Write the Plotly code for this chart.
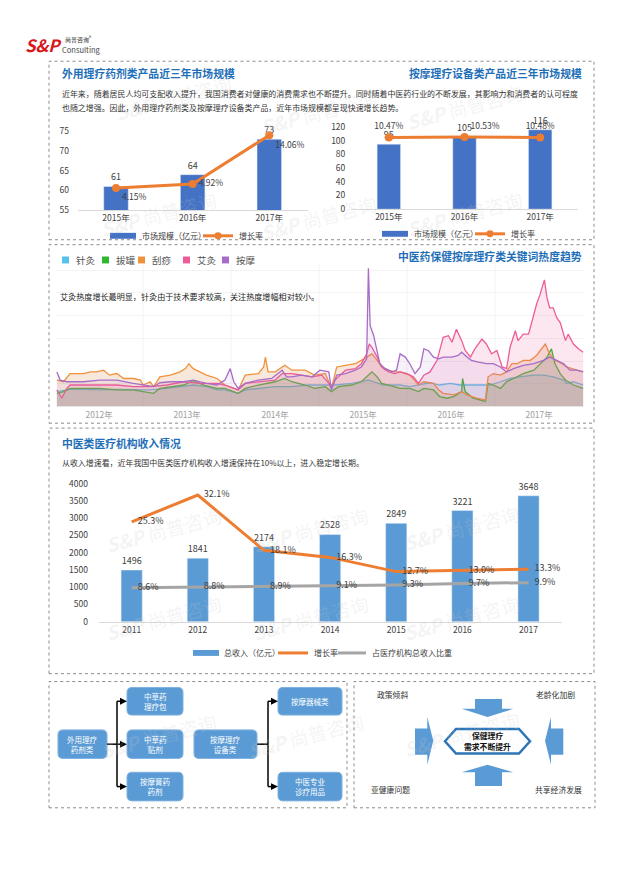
import plotly.graph_objects as go

W, H = 642, 869
def X(px): return px / W
def Y(py): return 1 - py / H

FONT = "Noto Sans CJK SC, Noto Sans, sans-serif"
BLUE_T = "#1F6FB8"
NB = "\u00a0"

# ---------------- data ----------------
years_a = ["2015年", "2016年", "2017年"]
topical_size = [61, 64, 73]
topical_growth = [4.15, 4.92, 14.06]
device_size = [95, 105, 116]
device_growth = [10.47, 10.53, 10.48]

inc_years = ["2011", "2012", "2013", "2014", "2015", "2016", "2017"]
income = [1496, 1841, 2174, 2528, 2849, 3221, 3648]
income_growth = [25.3, 32.1, 18.1, 16.3, 12.7, 13.0, 13.3]
income_share = [8.6, 8.8, 8.9, 9.1, 9.3, 9.7, 9.9]

trend_years = [2012, 2013, 2014, 2015, 2016, 2017]
trend_labels = ["2012年", "2013年", "2014年", "2015年", "2016年", "2017年"]

trend_anmo = [(2011.52,35),(2011.557,26.7),(2011.633,25),(2011.82,25),(2012.01,26.7),(2012.20,26.7),(2012.39,23.3),(2012.50,21.7),(2012.62,20),(2012.69,24),(2012.81,25),(2012.96,25),(2013.07,26.7),(2013.22,23.3),(2013.34,21.7),(2013.43,26.7),(2013.49,38.3),(2013.53,25),(2013.58,18.3),(2013.66,23.3),(2013.81,26.7),(2013.96,28.3),(2014.08,36.7),(2014.13,30),(2014.19,30),(2014.30,31.7),(2014.42,30),(2014.51,36.7),(2014.61,35),(2014.64,16.7),(2014.70,31.7),(2014.80,33.3),(2014.91,36.7),(2014.98,40),(2015.04,48.3),(2015.06,140),(2015.08,81.7),(2015.12,71.7),(2015.16,53.3),(2015.19,43.3),(2015.25,38.3),(2015.33,35),(2015.38,36.7),(2015.42,53.3),(2015.48,50),(2015.53,43.3),(2015.59,33.3),(2015.65,40),(2015.69,58.3),(2015.74,56.7),(2015.80,50),(2015.86,48.3),(2015.91,50),(2016.01,50),(2016.08,51.7),(2016.12,55),(2016.18,50),(2016.23,46.7),(2016.31,45),(2016.40,43.3),(2016.48,43.3),(2016.56,40),(2016.63,35),(2016.71,38.3),(2016.82,41.7),(2016.94,43.3),(2017.05,46.7),(2017.12,50),(2017.20,46.7),(2017.28,43.3),(2017.35,36.7),(2017.43,36.7),(2017.50,35)]

trend_aijiu = [(2011.52,16.7),(2011.576,8.3),(2011.633,18.3),(2011.67,21.7),(2011.82,21.7),(2012.01,21.7),(2012.20,21.7),(2012.39,20),(2012.58,20),(2012.77,21.7),(2012.96,25),(2013.15,23.3),(2013.34,23.3),(2013.43,21.7),(2013.58,16.7),(2013.66,23.3),(2013.81,25),(2014.00,26.7),(2014.08,33.3),(2014.19,33.3),(2014.30,31.7),(2014.42,30),(2014.53,31.7),(2014.61,23.3),(2014.64,18.3),(2014.68,26.7),(2014.80,36.7),(2014.91,38.3),(2014.98,43.3),(2015.04,53.3),(2015.07,63.3),(2015.10,60),(2015.16,50),(2015.19,43.3),(2015.23,38.3),(2015.29,35),(2015.36,33.3),(2015.42,35),(2015.50,33.3),(2015.57,30),(2015.63,23.3),(2015.69,31.7),(2015.76,35),(2015.84,46.7),(2015.91,70),(2015.97,71.7),(2016.01,65),(2016.06,78.3),(2016.12,66.7),(2016.16,56.7),(2016.22,50),(2016.27,58.3),(2016.35,68.3),(2016.40,63.3),(2016.46,53.3),(2016.52,56.7),(2016.58,40),(2016.63,38.3),(2016.67,60),(2016.73,76.7),(2016.76,66.7),(2016.82,73.3),(2016.88,73.3),(2016.92,86.7),(2016.97,103.3),(2017.01,113.3),(2017.06,128.3),(2017.09,110),(2017.12,100),(2017.16,100),(2017.20,90),(2017.24,85),(2017.30,66.7),(2017.33,73.3),(2017.39,63.3),(2017.45,58.3),(2017.50,55)]

trend_guasha = [(2011.52,26.7),(2011.595,25),(2011.67,33.3),(2011.82,33.3),(2011.90,35),(2011.97,35),(2012.05,36.7),(2012.12,31.7),(2012.20,33.3),(2012.28,28.3),(2012.39,28.3),(2012.47,26.7),(2012.50,21.7),(2012.58,25),(2012.62,20),(2012.69,30),(2012.81,31.7),(2012.92,35),(2012.98,38.3),(2013.02,43.3),(2013.07,38.3),(2013.15,35),(2013.22,31.7),(2013.34,28.3),(2013.43,21.7),(2013.58,16.7),(2013.66,31.7),(2013.81,33.3),(2013.87,40),(2013.89,50),(2013.92,35),(2014.00,35),(2014.11,41.7),(2014.19,36.7),(2014.34,36.7),(2014.45,31.7),(2014.57,33.3),(2014.64,18.3),(2014.70,40),(2014.80,41.7),(2014.91,43.3),(2014.98,46.7),(2015.04,50),(2015.10,53.3),(2015.16,46.7),(2015.21,40),(2015.29,36.7),(2015.36,35),(2015.42,35),(2015.53,31.7),(2015.63,21.7),(2015.69,25),(2015.80,23.3),(2015.86,16.7),(2015.91,13.3),(2016.03,11.7),(2016.12,15),(2016.18,11.7),(2016.29,8.3),(2016.39,6.7),(2016.42,30),(2016.48,33.3),(2016.56,31.7),(2016.63,35),(2016.69,43.3),(2016.75,43.3),(2016.82,46.7),(2016.90,46.7),(2016.97,51.7),(2017.07,63.3),(2017.12,53.3),(2017.18,46.7),(2017.26,43.3),(2017.31,40),(2017.43,36.7),(2017.50,35)]

trend_baguan = [(2011.52,13.3),(2011.595,15),(2011.67,18.3),(2011.82,18.3),(2012.01,18.3),(2012.20,16.7),(2012.39,16.7),(2012.50,15),(2012.62,13.3),(2012.69,18.3),(2012.81,20),(2012.96,21.7),(2013.07,26),(2013.19,21.7),(2013.34,18.3),(2013.43,18.3),(2013.58,13.3),(2013.66,18.3),(2013.81,21.7),(2014.00,25),(2014.11,28.3),(2014.19,25),(2014.34,21.7),(2014.45,18.3),(2014.57,20),(2014.64,15),(2014.72,20),(2014.87,21.7),(2014.98,25),(2015.06,31.7),(2015.10,35),(2015.16,30),(2015.21,23.3),(2015.29,21.7),(2015.36,20),(2015.42,18.3),(2015.53,18.3),(2015.63,15),(2015.69,18.3),(2015.80,16.7),(2015.87,10),(2015.95,8.3),(2016.03,10),(2016.12,15),(2016.13,28.3),(2016.16,15),(2016.25,8.3),(2016.39,5),(2016.42,23.3),(2016.48,21.7),(2016.56,18.3),(2016.63,25),(2016.71,28.3),(2016.82,33.3),(2016.94,36.7),(2017.01,43.3),(2017.09,50),(2017.14,58.3),(2017.18,43.3),(2017.24,33.3),(2017.30,26.7),(2017.39,21.7),(2017.50,18.3)]

trend_zhenjiu = [(2011.52,15),(2011.67,17.3),(2011.82,17.3),(2012.01,16.7),(2012.20,17.3),(2012.39,17.3),(2012.58,16.7),(2012.77,18.3),(2012.96,20),(2013.07,21.7),(2013.22,20),(2013.34,16.7),(2013.43,16.7),(2013.58,13.3),(2013.66,16.7),(2013.81,18.3),(2014.00,20),(2014.19,20),(2014.38,21.7),(2014.57,21.7),(2014.68,21.7),(2014.87,23.3),(2014.98,25),(2015.06,26.7),(2015.12,25),(2015.23,21.7),(2015.36,21.7),(2015.42,21.7),(2015.53,20),(2015.65,21.7),(2015.76,24),(2015.87,21.7),(2015.99,23.3),(2016.10,21.7),(2016.22,21.7),(2016.33,21.7),(2016.44,21.7),(2016.56,25),(2016.67,28.3),(2016.78,30),(2016.94,31.7),(2017.05,31.7),(2017.16,30),(2017.28,26.7),(2017.31,23.3),(2017.39,25),(2017.50,21.7)]

trend_names = ["针灸", "拔罐", "刮痧", "艾灸", "按摩"]
trend_colors = ["#55C3EC", "#2DB82D", "#F0913C", "#EE5C97", "#A66CC8"]
trend_fills = ["rgba(120,190,215,0.22)", "rgba(90,160,90,0.22)", "rgba(225,150,90,0.22)",
               "rgba(238,92,151,0.15)", "rgba(166,108,200,0.09)"]
trend_data = [trend_zhenjiu, trend_baguan, trend_guasha, trend_aijiu, trend_anmo]

fig = go.Figure()

# ---------- chart 1 left ----------
fig.add_trace(go.Bar(x=years_a, y=topical_size, xaxis="x", yaxis="y", width=0.32,
                     marker_color="#4472C4", text=[str(v) for v in topical_size],
                     textposition="outside", cliponaxis=False,
                     textfont=dict(size=9, color="#404040")))
fig.add_trace(go.Scatter(x=years_a, y=topical_growth, xaxis="x", yaxis="y2",
                         mode="lines+markers+text", line=dict(color="#ED7D31", width=3),
                         marker=dict(size=8, color="#ED7D31"), cliponaxis=False,
                         text=[f"{v:.2f}%" for v in topical_growth],
                         textposition=["bottom right", "middle right", "bottom right"],
                         textfont=dict(size=8.5, color="#404040")))
# ---------- chart 1 right ----------
fig.add_trace(go.Bar(x=years_a, y=device_size, xaxis="x3", yaxis="y3", width=0.31,
                     marker_color="#4472C4", text=[str(v) for v in device_size],
                     textposition="outside", cliponaxis=False,
                     textfont=dict(size=9, color="#404040")))
fig.add_trace(go.Scatter(x=years_a, y=device_growth, xaxis="x3", yaxis="y4",
                         mode="lines+markers+text", line=dict(color="#ED7D31", width=3),
                         marker=dict(size=8, color="#ED7D31"), cliponaxis=False,
                         text=[f"{v:.2f}%" for v in device_growth],
                         textposition=["top center", "top right", "top center"],
                         textfont=dict(size=8.5, color="#404040")))
# ---------- trend ----------
for name, col, fc, dat in zip(trend_names, trend_colors, trend_fills, trend_data):
    fig.add_trace(go.Scatter(x=[p[0] for p in dat], y=[p[1] for p in dat], xaxis="x5", yaxis="y5",
                             mode="lines", name=name, line=dict(color=col, width=1.3),
                             fill="tozeroy", fillcolor=fc))
# ---------- chart 3 ----------
fig.add_trace(go.Bar(x=inc_years, y=income, xaxis="x6", yaxis="y6", width=0.32,
                     marker_color="#5B9BD5", text=[str(v) for v in income],
                     textposition="outside", cliponaxis=False,
                     textfont=dict(size=9, color="#404040")))
fig.add_trace(go.Scatter(x=inc_years, y=income_growth, xaxis="x6", yaxis="y7",
                         mode="lines+text", line=dict(color="#ED7D31", width=3),
                         text=[f"{NB*3}{v:.1f}%" for v in income_growth], textposition="middle right",
                         cliponaxis=False, textfont=dict(size=9, color="#404040")))
fig.add_trace(go.Scatter(x=inc_years, y=income_share, xaxis="x6", yaxis="y7",
                         mode="lines+text", line=dict(color="#A5A5A5", width=3),
                         text=[f"{NB*3}{v:.1f}%" for v in income_share], textposition="middle right",
                         cliponaxis=False, textfont=dict(size=9, color="#404040")))

tickf = dict(size=8.5, color="#404040")
layout = dict(
    width=W, height=869, margin=dict(l=0, r=0, t=0, b=0),
    paper_bgcolor="white", plot_bgcolor="rgba(0,0,0,0)", showlegend=False,
    font=dict(family=FONT, color="#404040"),
    xaxis=dict(domain=[X(77.7), X(307.6)], anchor="y", type="category", range=[-0.5, 2.5],
               showline=True, linecolor="#D9D9D9", ticks="", tickfont=tickf, fixedrange=True),
    yaxis=dict(domain=[Y(206), Y(126)], anchor="x", range=[55, 75], dtick=5, showgrid=False,
               zeroline=False, tickfont=tickf, ticks="outside", ticklen=6, tickcolor="rgba(0,0,0,0)"),
    yaxis2=dict(overlaying="y", range=[0, 14.8], visible=False),
    xaxis3=dict(domain=[X(351), X(578)], anchor="y3", type="category", range=[-0.5, 2.5],
                showline=True, linecolor="#D9D9D9", ticks="", tickfont=tickf),
    yaxis3=dict(domain=[Y(205), Y(121.7)], anchor="x3", range=[0, 120], dtick=20, showgrid=False,
                zeroline=False, tickfont=tickf, ticks="outside", ticklen=3, tickcolor="rgba(0,0,0,0)"),
    yaxis4=dict(overlaying="y3", range=[0, 12], visible=False),
    xaxis5=dict(domain=[X(56), X(584)], anchor="y5", range=[2011.51, 2017.51],
                tickvals=trend_years, ticktext=trend_labels, showgrid=False, zeroline=False,
                tickfont=dict(size=8.5, color="#A0A0A0"), ticks="", showline=True, linecolor="#E6E6E6"),
    yaxis5=dict(domain=[Y(405), Y(260)], anchor="x5", range=[0, 145], showticklabels=False,
                tickvals=[23, 46, 69, 92, 115, 138], gridcolor="#F3F3F3", zeroline=False),
    xaxis6=dict(domain=[X(98.6), X(561.6)], anchor="y6", type="category", range=[-0.5, 6.5],
                showline=True, linecolor="#D9D9D9", ticks="", tickfont=tickf),
    yaxis6=dict(domain=[Y(623.3), Y(483.3)], anchor="x6", range=[0, 4000], dtick=500, showgrid=False,
                zeroline=False, tickfont=tickf, ticks="outside", ticklen=8, tickcolor="rgba(0,0,0,0)"),
    yaxis7=dict(overlaying="y6", range=[0, 35], visible=False),
)

shapes = []
ann = []

def rect(x0, y0, x1, y1, **kw):
    d = dict(type="rect", xref="paper", yref="paper", x0=X(x0), x1=X(x1), y0=Y(y1), y1=Y(y0))
    d.update(kw)
    shapes.append(d)

def line(x0, y0, x1, y1, color="black", width=1.5, dash=None):
    d = dict(type="line", xref="paper", yref="paper", x0=X(x0), x1=X(x1), y0=Y(y0), y1=Y(y1),
             line=dict(color=color, width=width))
    if dash:
        d["line"]["dash"] = dash
    shapes.append(d)

def poly(pts, fill, lc=None, lw=0):
    p = "M " + " L ".join(f"{X(a):.5f},{Y(b):.5f}" for a, b in pts) + " Z"
    shapes.append(dict(type="path", xref="paper", yref="paper", path=p, fillcolor=fill,
                       line=dict(color=lc or fill, width=lw)))

def rrect(x0, y0, x1, y1, r, fill, lc):
    P = lambda a, b: f"{X(a):.5f},{Y(b):.5f}"
    p = (f"M {P(x0+r,y0)} L {P(x1-r,y0)} Q {P(x1,y0)} {P(x1,y0+r)} L {P(x1,y1-r)} "
         f"Q {P(x1,y1)} {P(x1-r,y1)} L {P(x0+r,y1)} Q {P(x0,y1)} {P(x0,y1-r)} "
         f"L {P(x0,y0+r)} Q {P(x0,y0)} {P(x0+r,y0)} Z")
    shapes.append(dict(type="path", xref="paper", yref="paper", path=p, fillcolor=fill,
                       line=dict(color=lc, width=1)))

def text(x, y, s, size=8, color="#333", xa="center", bold=False, ya="middle", angle=0):
    if bold:
        s = f"<b>{s}</b>"
    ann.append(dict(x=X(x), y=Y(y), xref="paper", yref="paper", text=s, showarrow=False,
                    xanchor=xa, yanchor=ya, textangle=angle,
                    font=dict(size=size, color=color, family=FONT)))

# watermarks (very faint)
for (wx, wy) in [(110, 60), (318, 75), (528, 70), (95, 178), (318, 182), (528, 178),
                 (100, 530), (310, 530), (525, 528), (100, 650), (310, 650), (525, 650),
                 (95, 770), (305, 770), (525, 768)]:
    ann.append(dict(x=X(wx), y=Y(wy), xref="paper", yref="paper", showarrow=False,
                    text="<b><i>S&P</i></b> 尚普咨询", textangle=-15,
                    font=dict(size=19, color="rgba(200,200,200,0.2)", family=FONT)))

# logo
text(44, 38, "<i>S&P</i>", size=17, color="#D7191C", bold=True)
text(63, 32, "尚普咨询<sup>®</sup>", size=6, color="#333", xa="left")
text(60, 43, "Consulting", size=7.5, color="#444", xa="left")

# panels
for (a, b, c, d) in [(49, 55, 594, 236), (49, 241, 594, 422), (49, 427, 594, 676),
                     (49, 684, 347, 812), (354, 684, 595, 812)]:
    rect(a, b, c, d, line=dict(color="#8C8C8C", width=1, dash="dot"))

# panel 1 texts
text(60, 66.5, "外用理疗药剂类产品近三年市场规模", size=10.8, color=BLUE_T, xa="left", bold=True)
text(584, 66.5, "按摩理疗设备类产品近三年市场规模", size=10.8, color=BLUE_T, xa="right", bold=True)
text(60, 87.5, "近年来，随着居民人均可支配收入提升，我国消费者对健康的消费需求也不断提升。同时随着中医药行业的不断发展，其影响力和消费者的认可程度",
     size=7.95, color="#333", xa="left")
text(60, 101.5, "也随之增强。因此，外用理疗药剂类及按摩理疗设备类产品，近年市场规模都呈现快速增长趋势。",
     size=7.95, color="#333", xa="left")

def legend_bar(x0, y, label):
    rect(x0, y - 3, x0 + 26, y + 3, fillcolor="#4472C4", line=dict(width=0))
    text(x0 + 30, y, label, size=8, color="#404040", xa="left")

def legend_line(x0, y, label, color, marker=True, length=30):
    line(x0, y, x0 + length, y, color=color, width=3)
    if marker:
        shapes.append(dict(type="circle", xref="paper", yref="paper", x0=X(x0 + length/2 - 3.5),
                           x1=X(x0 + length/2 + 3.5), y0=Y(y + 3.5), y1=Y(y - 3.5),
                           fillcolor=color, line=dict(width=0)))
    text(x0 + length + 4, y, label, size=8, color="#404040", xa="left")

legend_bar(110, 232, "市场规模（亿元）")
legend_line(203, 232, "增长率", "#ED7D31")
legend_bar(382, 230, "市场规模（亿元）")
legend_line(475, 230, "增长率", "#ED7D31")

# panel 2 texts
text(584, 252.5, "中医药保健按摩理疗类关键词热度趋势", size=10.8, color=BLUE_T, xa="right", bold=True)
lx = [62, 102, 138, 183, 222]
for xx, name, col in zip(lx, trend_names, trend_colors):
    rect(xx, 253, xx + 7, 260, fillcolor=col, line=dict(width=0))
    text(xx + 12, 256.5, name, size=9.5, color="#555", xa="left")
text(58, 293.5, "艾灸热度增长最明显，针灸由于技术要求较高，关注热度增幅相对较小。", size=8.1,
     color="#222", xa="left")
for yr in [2012.5, 2013.5, 2014.5, 2015.5, 2016.5]:
    shapes.append(dict(type="line", xref="x5", yref="paper", x0=yr, x1=yr, y0=Y(405), y1=Y(260),
                       line=dict(color="#F3F3F3", width=1), layer="below"))

# panel 3 texts
text(60, 442, "中医类医疗机构收入情况", size=10.8, color=BLUE_T, xa="left", bold=True)
text(60, 461.5, "从收入增速看，近年我国中医类医疗机构收入增速保持在10%以上，进入稳定增长期。",
     size=7.95, color="#333", xa="left")
rect(193, 652, 219, 658, fillcolor="#5B9BD5", line=dict(width=0))
text(222, 655, "总收入（亿元）", size=8, color="#404040", xa="left")
legend_line(278, 655, "增长率", "#ED7D31", marker=False)
legend_line(338, 655, "占医疗机构总收入比重", "#A5A5A5", marker=False, length=28)

# panel 4 left flowchart
BOXC = "#5B9BD5"
boxes = [(58, 733, 107, 762, "外用理疗<br>药剂类"), (127, 690, 183, 718, "中草药<br>理疗包"),
         (127, 733, 183, 762, "中草药<br>贴剂"), (127, 776, 183, 805, "按摩膏药<br>药剂"),
         (194, 733, 257, 762, "按摩理疗<br>设备类"), (278, 690, 342, 718, "按摩器械类"),
         (278, 776, 342, 805, "中医专业<br>诊疗用品")]
for (a, b, c, d, s) in boxes:
    rrect(a, b, c, d, 5, BOXC, "#7FB2E0")
    text((a + c) / 2, (b + d) / 2, s, size=7.5, color="white")
line(107, 747.5, 117, 747.5)
line(117, 704, 117, 790.5)
line(257, 747.5, 268, 747.5)
line(268, 704, 268, 790.5)
for (tx, ty, fx) in [(127, 704, 117), (127, 747.5, 117), (127, 790.5, 117), (278, 704, 268), (278, 790.5, 268)]:
    line(fx, ty, tx - 5, ty)
    poly([(tx - 7, ty - 3.5), (tx, ty), (tx - 7, ty + 3.5)], "black")

# panel 4 right
AC = "#5B9BD5"
poly([(475, 701.7), (502, 701.7), (502, 711.7), (513.3, 711.7), (487.5, 720), (461.7, 711.7), (475, 711.7)], AC)
poly([(487.5, 768.3), (513.3, 776), (502, 776), (502, 790), (475, 790), (475, 776), (461.7, 776)], AC)
poly([(415, 731.7), (427.3, 731.7), (427.3, 720), (433.3, 744), (427.3, 768.3), (427.3, 758.3), (415, 758.3)], AC)
poly([(563.3, 731.7), (551, 731.7), (551, 720), (545, 744), (551, 768.3), (551, 758.3), (563.3, 758.3)], AC)
poly([(445, 744.5), (456, 732), (519, 732), (530, 744.5), (519, 757), (456, 757)], "white", "#2E75B6", 2.5)
text(487.5, 739, "保健理疗", size=7.8, color="#111", bold=True)
text(487.5, 750, "需求不断提升", size=7.8, color="#111", bold=True)
text(392, 697, "政策倾斜", size=7.8, color="#333")
text(555, 697, "老龄化加剧", size=7.8, color="#333")
text(390, 793, "亚健康问题", size=7.8, color="#333")
text(558, 793, "共享经济发展", size=7.8, color="#333")

layout["shapes"] = shapes
layout["annotations"] = ann
fig.update_layout(**layout)
fig.write_html("out.html")
